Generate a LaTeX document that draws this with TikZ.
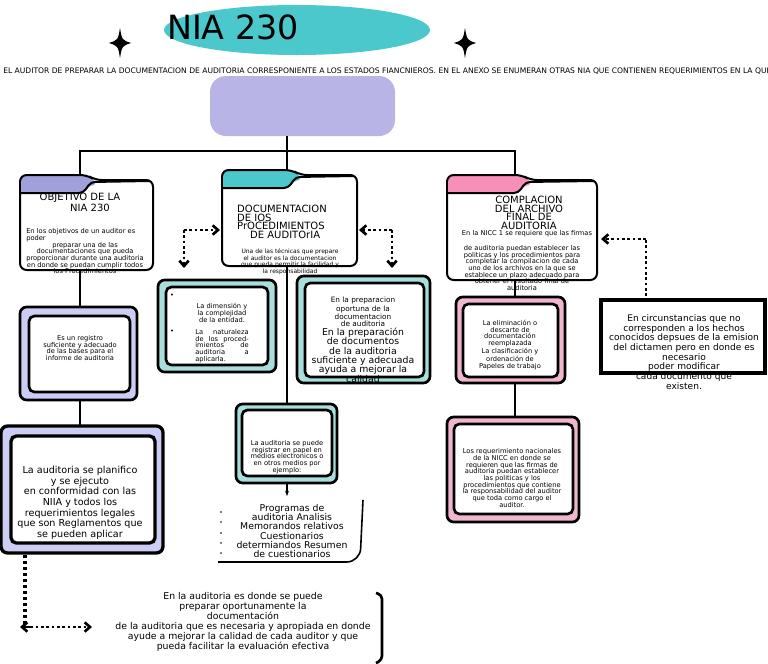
\documentclass[tikz,border=0pt]{standalone}
\usepackage{fontspec}
\setmainfont{DejaVu Sans}
\usetikzlibrary{arrows.meta}
\definecolor{teal1}{HTML}{4BC8CC}
\definecolor{lav}{HTML}{B8B4E6}
\definecolor{lav2}{HTML}{CCCDF5}
\definecolor{purp}{HTML}{9FA0DC}
\definecolor{pinkt}{HTML}{F78FB8}
\definecolor{pink2}{HTML}{F0B6CE}
\definecolor{tealb}{HTML}{A8DFDC}
\begin{document}
\begin{tikzpicture}[x=0.75pt,y=-0.75pt,
  ln/.style={line width=1.5pt},
  outer/.style={draw,line width=2pt,rounded corners=5pt},
  inner/.style={draw,fill=white,line width=2pt,rounded corners=4pt},
  dots/.style={line width=2pt,dotted,-{Straight Barb[length=4pt,width=7pt]}},
  txt/.style={align=center,font=\fontsize{5}{5}\selectfont,inner sep=0pt}]
\useasboundingbox (0,0) rectangle (768,664);
\begin{scope}
\clip (0,0) rectangle (768,664);
% title
\fill[teal1] (297,30) ellipse [x radius=133,y radius=25];
\node[font=\fontsize{25}{25}\selectfont,inner sep=0pt] (title) at (233,27) {NIA 230};
\foreach \sx in {120,465}{
  \fill (\sx,28) .. controls (\sx+2,40) .. (\sx+11,43) .. controls (\sx+2,46) .. (\sx,58) .. controls (\sx-2,46) .. (\sx-11,43) .. controls (\sx-2,40) .. (\sx,28);}
\node[anchor=west,font=\fontsize{5.7}{5.7}\selectfont,inner sep=0pt] (intro) at (3,71) {EL AUDITOR DE PREPARAR LA DOCUMENTACION DE AUDITORIA CORRESPONIENTE A LOS ESTADOS FIANCNIEROS. EN EL ANEXO SE ENUMERAN OTRAS NIA QUE CONTIENEN REQUERIMIENTOS EN LA QUE SE};
\fill[lav,rounded corners=12pt] (210,76) rectangle (395,136);
\coordinate (top) at (287,136);
% tree lines
\draw[ln] (top) -- (287,151);
\draw[ln] (80,175) -- (80,151) -- (515,151) -- (515,175);
\draw[ln] (287,151) -- (287,170);
% folders
\foreach \x/\y/\w/\h/\tw/\c in {20/175/133/95/75/purp,222/170/135/96/78/teal1,447/175/150/105/83/pinkt}{
  \fill[\c,rounded corners=3pt] (\x,\y) -- (\x+\tw-8,\y) -- (\x+\tw,\y+5) -- (\x+\tw,\y+12) -- (\x,\y+12) -- cycle;
  \draw[line width=1.5pt,rounded corners=5pt] (\x,\y+18) -- (\x,\y) -- (\x+\tw-8,\y) -- (\x+\tw,\y+5) -- (\x+\w,\y+5) -- (\x+\w,\y+\h) -- (\x,\y+\h) -- cycle;
  \fill[\c] (\x+1,\y+6) rectangle (\x+\tw-4,\y+17);
  \fill[white,rounded corners=3pt] (\x+1,\y+18) -- (\x+\tw-12,\y+18) -- (\x+\tw-4,\y+10) -- (\x+\w-1,\y+10) -- (\x+\w-1,\y+17) -- (\x+1,\y+18);
  \draw[line width=1.5pt,rounded corners=3pt] (\x,\y+18) -- (\x+\tw-12,\y+18) -- (\x+\tw-4,\y+7) -- (\x+\w-3,\y+6);
}
\node[txt,font=\fontsize{7.5}{6.5}\selectfont] (f1t) at (80,202) {OBJETIVO DE LA\\\hspace*{2em}NIA 230};
\node[txt,anchor=west,align=left] (f1a) at (26,235) {En los objetivos de un auditor es\\poder};
\node[txt] (f1b) at (85,258) {preparar una de las\\documentaciones que pueda\\proporcionar durante una auditoria\\en donde se puedan cumplir todos\\los Procedimientos};
\node[txt,font=\fontsize{7.5}{6.5}\selectfont,align=left] (f2t) at (282,222) {DOCUMENTACION\\DE IOS\\PrOCEDIMIENTOS\\\hspace*{1.3em}DE AUDITOrIA};
\node[txt,font=\fontsize{4.5}{4.2}\selectfont] (f2b) at (290,262) {Una de las técnicas que prepare\\el auditor es la documentacion\\que pueda permitir la facilidad y\\la responsabilidad};
\node[txt,font=\fontsize{7.5}{6.5}\selectfont] (f3t) at (529,213) {COMPLACION\\DEL ARCHIVO\\FINAL DE\\AUDITORIA};
\node[txt] (f3a) at (527,234) {En la NICC 1 se requiere que las firmas};
\node[txt] (f3b) at (522,268) {de auditoria puedan establecer las\\politicas y los procedimientos para\\completar la compilacion de cada\\uno de los archivos en la que se\\establece un plazo adecuado para\\obtener el resultado final de\\auditoria};
% left column
\draw[ln] (80,270) -- (80,307);
\draw[outer,fill=lav2] (20,307) rectangle (137,400);
\draw[inner] (29,316) rectangle (130,392);
\node[txt] (b1) at (80,348) {Es un registro\\suficiente y adecuado\\de las bases para el\\informe de auditoria};
\draw[ln] (80,400) -- (80,425);
\draw[outer,fill=lav2,line width=2.5pt] (1,426) rectangle (163,553);
\draw[inner,line width=2.5pt] (11,436) rectangle (155,543);
\node[txt,font=\fontsize{7.2}{8}\selectfont] (b2) at (80,503) {La auditoria se planifico\\y se ejecuto\\en conformidad con las\\NIIA y todos los\\requerimientos legales\\que son Reglamentos que\\se pueden aplicar};
% middle
\draw[ln] (287,266) -- (287,404);
\draw[outer,fill=tealb] (158,280) rectangle (276,372);
\draw[inner] (166,287) rectangle (268,365);
\node[txt] (m1) at (172,296) {•};
\node[txt] (m2) at (172,332) {•};
\node[txt] (m3) at (222,313) {La dimensión y\\la complejidad\\de la entidad.};
\node[txt,align=justify,text width=40pt] (m4) at (222,346) {La naturaleza de los procedimientos de auditoria a aplicarla.};
\draw[outer,fill=tealb] (297,276) rectangle (430,383);
\draw[inner] (305,283) rectangle (424,377);
\node[txt,font=\fontsize{5.5}{5}\selectfont] (m5) at (363,312) {En la preparacion\\oportuna de la\\documentacion\\de auditoria};
\node[txt,font=\fontsize{7}{7}\selectfont] (m6) at (363,355) {En la preparación\\de documentos\\de la auditoria\\suficiente y adecuada\\ayuda a mejorar la\\calidad};
\draw[outer,fill=tealb] (236,404) rectangle (337,483);
\draw[inner] (242,410) rectangle (332,476);
\node[txt] (m7) at (287,457) {La auditoria se puede\\registrar en papel en\\medios electronicos o\\en otros medios por\\ejemplo:};
\draw[ln,-{Stealth[length=4pt]}] (287,483) -- (287,496);
\draw[line width=1.2pt,rounded corners=10pt] (218,562) -- (360,562) -- (363,500) ;
\node[txt,font=\fontsize{7}{7}\selectfont] (m8) at (292,531) {Programas de\\auditoria Analisis\\Memorandos relativos\\Cuestionarios\\determiandos Resumen\\de cuestionarios};
\foreach \yy in {512,522,533,543,553} \fill (221,\yy) circle (0.8);
% dotted arrows
\coordinate (dl) at (184,230); \coordinate (dr) at (392,230);
\draw[dots] (dl) -- (220,230);
\draw[dots] (dl) -- (184,268);
\draw[dots] (dr) -- (359,230);
\draw[dots] (dr) -- (392,268);
% right column
\draw[ln] (515,280) -- (515,297);
\draw[outer,fill=pink2] (456,297) rectangle (565,383);
\draw[inner] (463,304) rectangle (558,377);
\node[txt] (r1) at (510,345) {La eliminación o\\descarte de\\documentación\\reemplazada\\La clasificación y\\ordenación de\\Papeles de trabajo};
\draw[ln] (515,383) -- (515,417);
\draw[outer,fill=pink2] (447,417) rectangle (579,522);
\draw[inner] (454,424) rectangle (573,514);
\node[txt] (r2) at (512,478) {Los requerimiento nacionales\\de la NICC en donde se\\requieren que las firmas de\\auditoria puedan establecer\\las politicas y los\\procedimientos que contiene\\la responsabilidad del auditor\\que toda como cargo el\\auditor.};
\draw[line width=3.5pt] (601,300) rectangle (765,373);
\node[txt,font=\fontsize{6.8}{7.3}\selectfont] (r3) at (684,352) {En circunstancias que no\\corresponden a los hechos\\conocidos depsues de la emision\\del dictamen pero en donde es\\necesario\\poder modificar\\cada documento que\\existen.};
\coordinate (dk) at (646,239);
\draw[line width=2pt,dotted] (646,296) -- (dk);
\draw[dots] (dk) -- (601,239);
% bottom
\coordinate (bd) at (25,627);
\draw[line width=2.5pt,dotted] (25,555) -- (bd);
\draw[dots] (bd) -- (92,627);
\draw[dots] (30,627) -- (20,627);
\node[txt,font=\fontsize{7}{7.5}\selectfont] (bt) at (243,622) {En la auditoria es donde se puede\\preparar oportunamente la\\documentación\\de la auditoria que es necesaria y apropiada en donde\\ayude a mejorar la calidad de cada auditor y que\\pueda facilitar la evaluación efectiva};
\draw[line width=2pt,rounded corners=3pt] (376,593) -- (382,595) -- (382,660) -- (376,663);
\end{scope}
\end{tikzpicture}
\end{document}
